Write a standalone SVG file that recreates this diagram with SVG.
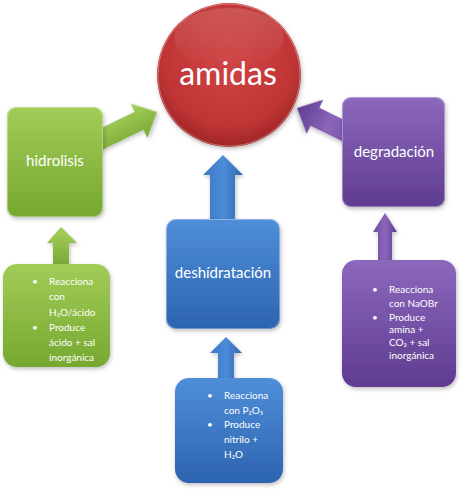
<svg xmlns="http://www.w3.org/2000/svg" width="461" height="492" viewBox="0 0 461 492">
<defs>
<linearGradient id="gG" x1="0" y1="0" x2="0" y2="1"><stop offset="0" stop-color="#a2cc58"/><stop offset="1" stop-color="#76a830"/></linearGradient>
<linearGradient id="gB" x1="0" y1="0" x2="0" y2="1"><stop offset="0" stop-color="#4f8ed8"/><stop offset="1" stop-color="#2c64b0"/></linearGradient>
<linearGradient id="gP" x1="0" y1="0" x2="0" y2="1"><stop offset="0" stop-color="#8c68bd"/><stop offset="1" stop-color="#5e3c90"/></linearGradient>
<linearGradient id="aG" x1="0" y1="0" x2="0" y2="1"><stop offset="0" stop-color="#a6d05c"/><stop offset="1" stop-color="#7aa834"/></linearGradient>
<linearGradient id="aB" x1="0" y1="0" x2="1" y2="0"><stop offset="0" stop-color="#3a76c4"/><stop offset="0.5" stop-color="#4d8cd8"/><stop offset="1" stop-color="#2f66b2"/></linearGradient>
<linearGradient id="aP" x1="0" y1="0" x2="1" y2="0"><stop offset="0" stop-color="#6e4ca2"/><stop offset="0.5" stop-color="#8a66ba"/><stop offset="1" stop-color="#5f3e92"/></linearGradient>
<radialGradient id="gR" cx="0.5" cy="0.4" r="0.6"><stop offset="0" stop-color="#cf4444"/><stop offset="0.75" stop-color="#c03535"/><stop offset="1" stop-color="#9e2626"/></radialGradient>
<linearGradient id="hl" x1="0" y1="0" x2="0" y2="1"><stop offset="0" stop-color="#fff" stop-opacity="0.15"/><stop offset="1" stop-color="#fff" stop-opacity="0"/></linearGradient>
<filter id="sh" x="-20%" y="-20%" width="140%" height="140%"><feDropShadow dx="1" dy="2" stdDeviation="2" flood-color="#000" flood-opacity="0.25"/></filter>
</defs>
<style>
.t{font-family:Lato,"Liberation Sans",sans-serif;fill:#fff}
.big{font-size:15px}
.sm{font-size:10px}
.edge{fill:none;stroke:#ffffff;stroke-opacity:0.35;stroke-width:1}
</style>
<g id="connectors">
<polygon points="0,0 -20,-19 -20,-10 -72,-10 -72,10 -20,10 -20,19" fill="url(#aG)" transform="translate(157,112) rotate(-26)" filter="url(#sh)"/>
<polygon points="0,0 -20,-19 -20,-10 -72,-10 -72,10 -20,10 -20,19" fill="url(#aP)" transform="translate(297,108) scale(-1,1) rotate(-26)" filter="url(#sh)"/>
<polygon points="223,155 243,175 235,175 235,222 210,222 210,175 203,175" fill="url(#aB)" filter="url(#sh)"/>
<polygon points="61,227 77,243 69,243 69,266 53,266 53,243 47,243" fill="url(#aG)" filter="url(#sh)"/>
<polygon points="385,213 397,232 392,232 392,262 378,262 378,232 373,232" fill="url(#aP)" filter="url(#sh)"/>
<polygon points="226,337 242,353 234,353 234,380 218,380 218,353 210,353" fill="url(#aB)" filter="url(#sh)"/>
</g>
<g id="amidas">
<circle cx="229" cy="75" r="72" fill="url(#gR)" filter="url(#sh)"/>
<ellipse cx="229" cy="38" rx="55" ry="30" fill="url(#hl)"/>
<circle cx="229" cy="75" r="71" class="edge"/>
<text x="228" y="85" text-anchor="middle" class="t" font-size="32">amidas</text>
</g>
<g id="hidrolisis">
<rect x="7" y="107" width="96" height="110" rx="9" fill="url(#gG)" filter="url(#sh)"/>
<rect x="7.5" y="107.5" width="95" height="109" rx="9" class="edge"/>
<text x="55" y="166" text-anchor="middle" class="t big">hidrolisis</text>
</g>
<g id="degradacion">
<rect x="342" y="97" width="103" height="110" rx="9" fill="url(#gP)" filter="url(#sh)"/>
<rect x="342.5" y="97.5" width="102" height="109" rx="9" class="edge"/>
<text x="394" y="157" text-anchor="middle" class="t big">degradación</text>
</g>
<g id="deshidratacion">
<rect x="166" y="219" width="114" height="110" rx="10" fill="url(#gB)" filter="url(#sh)"/>
<rect x="166.5" y="219.5" width="113" height="109" rx="10" class="edge"/>
<text x="223" y="278" text-anchor="middle" class="t big">deshídratación</text>
</g>
<g id="hidrolisis-detalle">
<rect x="3" y="264" width="107" height="103" rx="14" fill="url(#gG)" filter="url(#sh)"/>
<g class="t sm">
<text x="32" y="285">•</text><text x="49" y="285">Reacciona</text>
<text x="49" y="300">con</text>
<text x="49" y="316">H₂O/ácido</text>
<text x="32" y="331">•</text><text x="49" y="331">Produce</text>
<text x="49" y="346">ácido + sal</text>
<text x="49" y="361">inorgánica</text>
</g>
</g>
<g id="deshidratacion-detalle">
<rect x="175" y="378" width="108" height="105" rx="14" fill="url(#gB)" filter="url(#sh)"/>
<g class="t sm">
<text x="207" y="399">•</text><text x="224" y="399">Reacciona</text>
<text x="224" y="414">con P₂O₅</text>
<text x="207" y="428">•</text><text x="224" y="428">Produce</text>
<text x="224" y="443">nitrilo +</text>
<text x="224" y="458">H₂O</text>
</g>
</g>
<g id="degradacion-detalle">
<rect x="342" y="260" width="114" height="127" rx="14" fill="url(#gP)" filter="url(#sh)"/>
<g class="t sm">
<text x="372" y="293">•</text><text x="389" y="293">Reacciona</text>
<text x="389" y="307">con NaOBr</text>
<text x="372" y="321">•</text><text x="389" y="321">Produce</text>
<text x="389" y="333">amina +</text>
<text x="389" y="346">CO₂ + sal</text>
<text x="389" y="359">inorgánica</text>
</g>
</g>
</svg>
